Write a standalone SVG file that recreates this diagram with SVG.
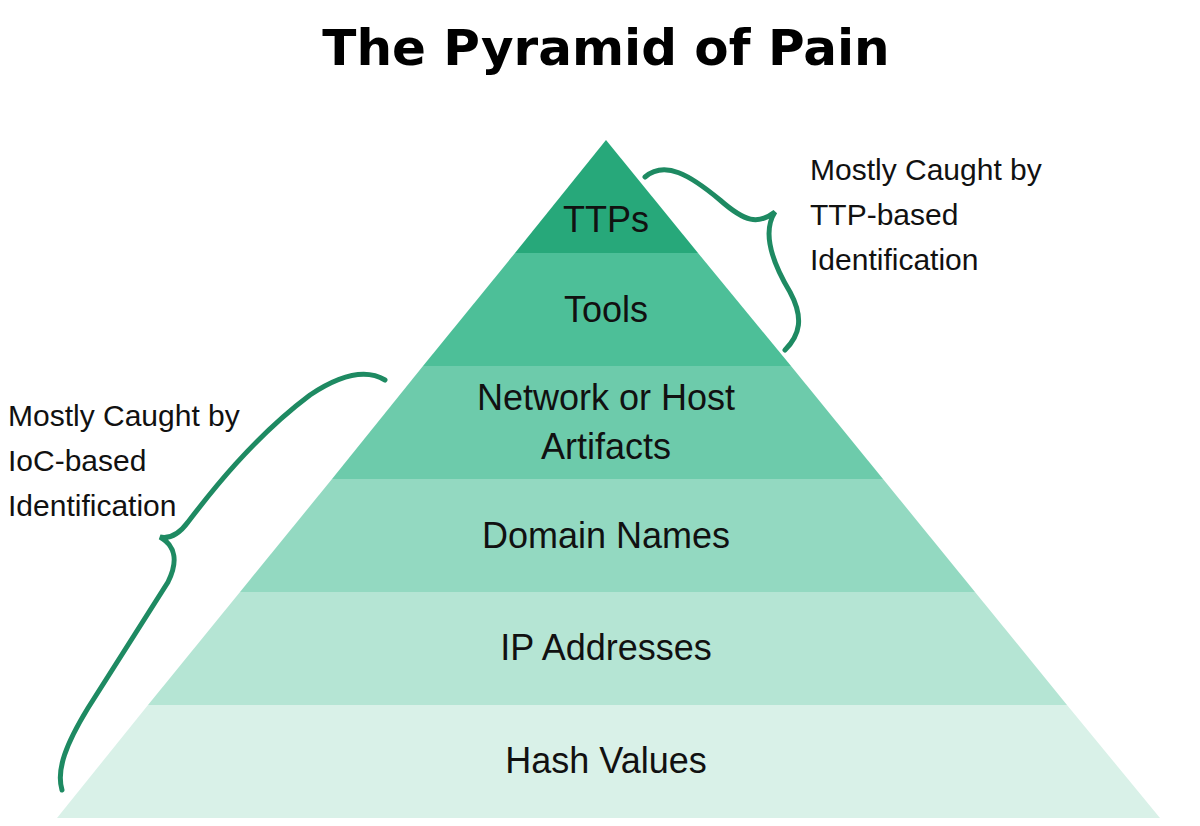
<svg xmlns="http://www.w3.org/2000/svg" width="1200" height="826" viewBox="0 0 1200 826">
<style>
.l{font-family:"Liberation Sans",Arial,sans-serif;font-size:36px;fill:#111;text-anchor:middle}
.s{font-family:"Liberation Sans",Arial,sans-serif;font-size:30px;fill:#111}
.b{fill:none;stroke:#1e8a62;stroke-width:5;stroke-linecap:round}
</style>
<rect width="1200" height="826" fill="#fff"/>
<text x="606" y="65" style="font-family:'DejaVu Sans',Verdana,sans-serif;font-weight:bold;font-size:50px;text-anchor:middle;fill:#000">The Pyramid of Pain</text>
<g id="ttps"><polygon points="606,140 698,253 515,253" fill="#27a87a"/><text class="l" x="606" y="232">TTPs</text></g>
<g id="tools"><polygon points="515,253 698,253 791,366 423,366" fill="#4dbf98"/><text class="l" x="606" y="322">Tools</text></g>
<g id="artifacts"><polygon points="423,366 791,366 883,479 332,479" fill="#6dcbab"/><text class="l" x="606" y="410">Network or Host</text><text class="l" x="606" y="459">Artifacts</text></g>
<g id="domain"><polygon points="332,479 883,479 975,592 240,592" fill="#93d9c1"/><text class="l" x="606" y="548">Domain Names</text></g>
<g id="ip"><polygon points="240,592 975,592 1067,705 148,705" fill="#b5e5d4"/><text class="l" x="606" y="660">IP Addresses</text></g>
<g id="hash"><polygon points="148,705 1067,705 1160,818 57,818" fill="#d9f1e8"/><text class="l" x="606" y="773">Hash Values</text></g>
<g id="connectors">
<path class="b" d="M645,177 C665,160 690,175 720,200 C745,222 758,225 775,212 C762,232 772,262 790,292 C804,318 800,335 785,350"/>
<path class="b" d="M385,380 C365,368 340,375 310,395 C250,440 205,500 188,522 C180,533 170,539 160,537 C176,546 178,562 168,582 L88,708 C66,744 56,770 62,790"/>
</g>
<g id="ttp-label"><text class="s" x="810" y="180">Mostly Caught by</text><text class="s" x="810" y="225">TTP-based</text><text class="s" x="810" y="270">Identification</text></g>
<g id="ioc-label"><text class="s" x="8" y="426">Mostly Caught by</text><text class="s" x="8" y="471">IoC-based</text><text class="s" x="8" y="516">Identification</text></g>
</svg>
